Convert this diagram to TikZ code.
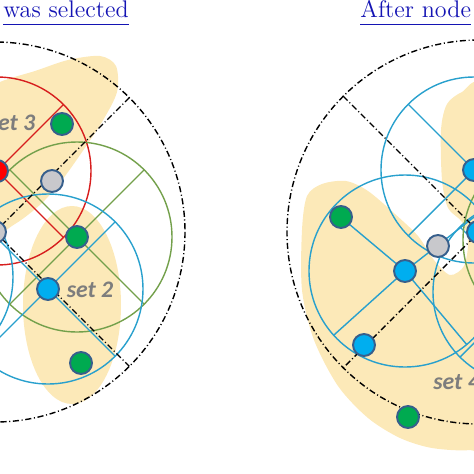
\documentclass[tikz,border=0pt]{standalone}
\usepackage{fontspec}
\newfontfamily\setsfont{Carlito}
\usetikzlibrary{positioning}

\definecolor{blobfill}{RGB}{252,233,184}
\definecolor{nodeline}{RGB}{55,95,140}
\definecolor{sgreen}{RGB}{0,170,80}
\definecolor{sblue}{RGB}{0,174,239}
\definecolor{sgray}{RGB}{200,200,204}
\definecolor{sred}{RGB}{255,0,0}
\definecolor{redring}{RGB}{215,30,30}
\definecolor{greenring}{RGB}{115,160,75}
\definecolor{bluering}{RGB}{40,160,205}
\definecolor{titleblue}{RGB}{20,20,180}
\definecolor{settext}{RGB}{125,125,125}

\tikzset{
  sensor/.style={circle,draw=nodeline,line width=1.1pt,minimum size=12.5pt,inner sep=0pt},
  ring/.style={line width=0.8pt},
  ddot/.style={line width=0.8pt,dash pattern=on 3.5pt off 1.5pt on 0.6pt off 1.5pt},
  blob/.style={fill=blobfill},
  setlabel/.style={text=settext,inner sep=0pt,font=\setsfont\bfseries\itshape\fontsize{13.5}{16}\selectfont},
  title/.style={text=titleblue,inner sep=0pt,font=\fontsize{13.7}{16}\selectfont}
}

\begin{document}
\begin{tikzpicture}[x=0.02cm,y=-0.02cm]
  \useasboundingbox (0,0) rectangle (474,474);
  \clip (0,0) rectangle (474,474);

  % sets
  \fill[blob] plot[smooth cycle] coordinates {(-30,100) (0,82) (35,71) (68,60) (100,56) (116,66)
    (117,92) (102,122) (80,155) (62,180) (42,203) (15,224) (-20,240) (-40,180)};
  \fill[blob] (72,305) ellipse [x radius=49, y radius=99];
  \fill[blob] plot[smooth cycle] coordinates {(302,290) (302,230) (307,196) (322,184) (346,181)
    (368,191) (395,214) (418,236) (434,260) (450,275) (464,266) (468,242) (462,222) (448,208)
    (442,180) (441,130) (447,104) (462,92) (480,88) (495,200) (495,440) (470,450) (432,448)
    (400,438) (368,418) (338,386) (314,340)};

  % centres of the rings
  \coordinate (cred) at (-3,171);
  \coordinate (cgreen) at (77,237);
  \coordinate (cblue) at (48,289);
  \coordinate (cblue2) at (-82,277);
  \coordinate (ctop) at (474,170);
  \coordinate (cmid) at (405,271);
  \coordinate (clow) at (525,292);
  \coordinate (colive) at (558,240);

  % rings and their diagonals
  \foreach \ctr/\rad/\col in {cred/94/redring,cgreen/95/greenring,cblue/95/bluering,
      cblue2/95/bluering,ctop/93/bluering,clow/92/bluering,colive/95/greenring}{
    \draw[ring,\col] (\ctr) circle[radius=\rad];
    \foreach \a in {45,135,225,315}
      \draw[ring,\col] (\ctr) -- ++(\a:\rad);
  }
  \draw[ring,bluering] (cmid) circle[radius=96];
  \foreach \a in {-38,-140,-222,-310}
    \draw[ring,bluering] (cmid) -- ++(\a:96);

  % search areas
  \coordinate (oleft) at (-5,232);
  \coordinate (oright) at (479,232);
  \path (oleft) ++(-45:190) coordinate (oleft1);
  \path (oleft) ++(45:190) coordinate (oleft2);
  \path (oright) ++(-135:192) coordinate (oright1);
  \path (oright) ++(135:192) coordinate (oright2);
  \draw[ddot] (oleft) circle[radius=190];
  \draw[ddot] (oleft1) -- (oleft) -- (oleft2);
  \draw[ddot] (oright) circle[radius=192];
  \draw[ddot] (oright1) -- (oright) -- (oright2);

  % nodes, left
  \node[sensor,fill=sred] (red1) at (cred) {};
  \node[sensor,fill=sgreen] (green1) at (62,124) {};
  \node[sensor,fill=sgray] (gray1) at (52,181) {};
  \node[sensor,fill=sgray] (gray2) at (oleft) {};
  \node[sensor,fill=sgreen] (green2) at (cgreen) {};
  \node[sensor,fill=sblue] (blue1) at (cblue) {};
  \node[sensor,fill=sgreen] (green3) at (81,363) {};

  % nodes, right
  \node[sensor,fill=sgreen] (green4) at (341,217) {};
  \node[sensor,fill=sblue] (blue2) at (cmid) {};
  \node[sensor,fill=sgray] (gray3) at (438,246) {};
  \node[sensor,fill=sblue] (blue3) at (364,345) {};
  \node[sensor,fill=sgreen] (green5) at (408,417) {};
  \node[sensor,fill=sblue] (blue4) at (ctop) {};
  \node[sensor,fill=sblue] (blue5) at (478,232) {};

  % labels
  \node[title,anchor=base west] (head1) at (3,17) {\underline{\vphantom{p}was selected}};
  \node[title,anchor=base west] (head2) at (360,17) {\underline{\vphantom{p}After node}};
  \node[setlabel] (set3) at (12,123) {set 3};
  \node[setlabel] (set2) at (90,290) {set 2};
  \node[setlabel,anchor=west] (set4) at (433,382) {set 4};
\end{tikzpicture}
\end{document}
